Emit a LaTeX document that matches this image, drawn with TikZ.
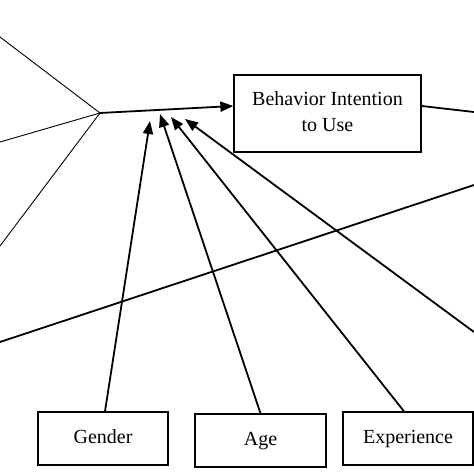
\documentclass[tikz,border=0pt]{standalone}
\usepackage{fontspec}
\setmainfont{Liberation Serif}
\usetikzlibrary{arrows.meta}
\newcommand{\upbox}[2][4pt]{\raisebox{#1}{\begin{tabular}{@{}c@{}}#2\end{tabular}}}
\begin{document}
\begin{tikzpicture}[x=1pt,y=-1pt,
  box/.style={draw,line width=1.3pt,minimum width=#1,minimum height=53pt,inner sep=0pt,font=\fontsize{20}{26}\selectfont,align=center},
  thin/.style={line width=0.9pt},
  thick/.style={line width=1.8pt},
  arr/.style={thick,-{Triangle[length=13pt,width=10pt]}}]
\useasboundingbox (0,0) rectangle (474,474);
\node[box=187pt,minimum height=77pt] (BI) at (327.5,113.5) {\upbox[5pt]{Behavior Intention\\to Use}};
\node[box=130pt] (G) at (103,438.5) {\upbox[6pt]{Gender}};
\node[box=131pt] (A) at (260.5,440.5) {\upbox[5pt]{Age}};
\node[box=130pt] (E) at (408,438.5) {\upbox[6pt]{Experience}};
\coordinate (J) at (100,113);
\coordinate (L1) at (0,37);
\coordinate (L2) at (0,142);
\coordinate (L3) at (0,246);
\coordinate (R1) at (474,112);
\coordinate (R2) at (474,185);
\coordinate (L4) at (0,342);
\coordinate (R3) at (474,332);
\coordinate (T1) at (150,121);
\coordinate (T2) at (160,114);
\coordinate (T3) at (171,117);
\coordinate (T4) at (185,119);
\draw[thin] (L1) -- (J);
\draw[thin] (L2) -- (J);
\draw[thin] (L3) -- (J);
\draw[arr] (J) -- ([yshift=7.5pt]BI.west);
\draw[thick] ([yshift=7.5pt]BI.east) -- (R1);
\draw[thick] (R2) -- (L4);
\draw[arr] ([xshift=2pt]G.north) -- (T1);
\draw[arr] (A.north) -- (T2);
\draw[arr] ([xshift=-4pt]E.north) -- (T3);
\draw[arr] (R3) -- (T4);
\end{tikzpicture}
\end{document}
